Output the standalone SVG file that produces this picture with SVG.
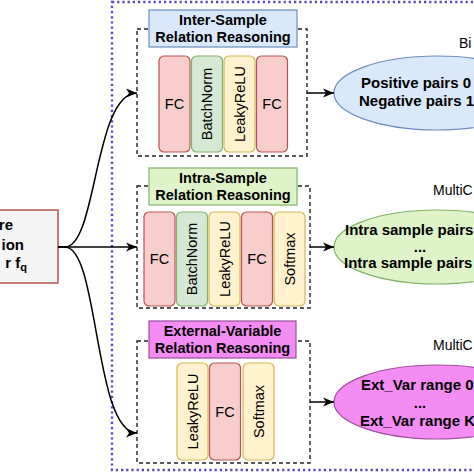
<svg xmlns="http://www.w3.org/2000/svg" width="474" height="474" viewBox="0 0 474 474">
<defs>
<marker id="arr" markerUnits="userSpaceOnUse" markerWidth="12" markerHeight="10" viewBox="0 0 12 10" refX="11" refY="5" orient="auto">
<path d="M0,0.5 L11,5 L0,9.5 L3,5 z" fill="#000"/>
</marker>
<style>
text{font-family:"Liberation Sans",Arial,sans-serif;fill:#000}
.title{font-size:14.5px;font-weight:bold;text-anchor:middle}
.lbl{font-size:14.5px;text-anchor:middle;dominant-baseline:central}
.out{font-size:15px;font-weight:bold}
.tag{font-size:14px}
.dash{fill:none;stroke:#222;stroke-width:1.4;stroke-dasharray:4 3}
.fc{fill:#f8cecc;stroke:#b85450;stroke-width:1.2}
.bn{fill:#d5e8d4;stroke:#82b366;stroke-width:1.2}
.lr{fill:#fff2cc;stroke:#d6b656;stroke-width:1.2}
.conn{fill:none;stroke:#000;stroke-width:1.5}
</style>
</defs>
<rect width="474" height="474" fill="#fff"/>

<!-- outer dotted frame -->
<rect id="frame" x="112" y="2" width="380" height="468" fill="none" stroke="#5548c8" stroke-width="2.4" stroke-dasharray="2.2 3"/>

<!-- left node -->
<g id="encoder">
<rect x="-10" y="210" width="68" height="73" fill="#f5f5f5" stroke="#b85450" stroke-width="1.5"/>
<text class="out" x="13" y="230" text-anchor="end">re</text>
<text class="out" x="24" y="250" text-anchor="end">ion</text>
<text class="out" x="27" y="268" text-anchor="end">r f<tspan font-size="11" dy="3">q</tspan></text>
</g>

<!-- Inter-sample branch -->
<g id="inter">
<rect class="dash" x="137" y="29" width="170" height="127"/>
<rect x="149" y="10" width="148" height="37" fill="#dae8fc" stroke="#6c8ebf" stroke-width="1.2"/>
<text class="title" x="223" y="25">Inter-Sample</text>
<text class="title" x="223" y="42">Relation Reasoning</text>
<rect class="fc" x="159" y="56" width="31" height="96" rx="5"/>
<text class="lbl" x="174.5" y="104">FC</text>
<rect class="bn" x="191.5" y="56" width="31" height="96" rx="5"/>
<text class="lbl" transform="translate(207 104) rotate(-90)">BatchNorm</text>
<rect class="lr" x="224" y="56" width="31" height="96" rx="5"/>
<text class="lbl" transform="translate(239.5 104) rotate(-90)">LeakyReLU</text>
<rect class="fc" x="256.5" y="56" width="31" height="96" rx="5"/>
<text class="lbl" x="272" y="104">FC</text>
</g>
<g id="out-inter">
<ellipse cx="437" cy="93" rx="103" ry="37" fill="#dae8fc" stroke="#6c8ebf" stroke-width="1.2"/>
<text class="out" x="361" y="88">Positive pairs 0</text>
<text class="out" x="359" y="106">Negative pairs 1</text>
<text class="tag" x="459" y="48">Bi</text>
</g>

<!-- Intra-sample branch -->
<g id="intra">
<rect class="dash" x="137" y="186" width="173" height="122"/>
<rect x="149" y="168" width="148" height="37" fill="#dff3c8" stroke="#82b366" stroke-width="1.2"/>
<text class="title" x="223" y="183">Intra-Sample</text>
<text class="title" x="223" y="200">Relation Reasoning</text>
<rect class="fc" x="144" y="212" width="31" height="94" rx="5"/>
<text class="lbl" x="159.5" y="259">FC</text>
<rect class="bn" x="176.5" y="212" width="31" height="94" rx="5"/>
<text class="lbl" transform="translate(192 259) rotate(-90)">BatchNorm</text>
<rect class="lr" x="209" y="212" width="31" height="94" rx="5"/>
<text class="lbl" transform="translate(224.5 259) rotate(-90)">LeakyReLU</text>
<rect class="fc" x="241.5" y="212" width="31" height="94" rx="5"/>
<text class="lbl" x="257" y="259">FC</text>
<rect class="lr" x="274" y="212" width="31" height="94" rx="5"/>
<text class="lbl" transform="translate(289.5 259) rotate(-90)">Softmax</text>
</g>
<g id="out-intra">
<ellipse cx="437" cy="247" rx="103" ry="37" fill="#dff3c8" stroke="#82b366" stroke-width="1.2"/>
<text class="out" x="345" y="235">Intra sample pairs</text>
<text class="out" x="420" y="252" text-anchor="middle">...</text>
<text class="out" x="344" y="268">Intra sample pairs</text>
<text class="tag" x="433" y="195">MultiC</text>
</g>

<!-- External-variable branch -->
<g id="external">
<rect class="dash" x="137" y="341" width="173" height="122"/>
<rect x="149" y="321" width="147" height="37" fill="#f48cf4" stroke="#9a4f9a" stroke-width="1.2"/>
<text class="title" x="222.5" y="336">External-Variable</text>
<text class="title" x="222.5" y="353">Relation Reasoning</text>
<rect class="lr" x="177" y="363" width="31" height="97" rx="5"/>
<text class="lbl" transform="translate(192.5 411.5) rotate(-90)">LeakyReLU</text>
<rect class="fc" x="209.5" y="363" width="31" height="97" rx="5"/>
<text class="lbl" x="225" y="411.5">FC</text>
<rect class="lr" x="243" y="363" width="31" height="97" rx="5"/>
<text class="lbl" transform="translate(258.5 411.5) rotate(-90)">Softmax</text>
</g>
<g id="out-external">
<ellipse cx="437" cy="402" rx="103" ry="37" fill="#f48cf4" stroke="#a0509e" stroke-width="1.2"/>
<text class="out" x="361" y="390">Ext_Var range 0</text>
<text class="out" x="420" y="408" text-anchor="middle">...</text>
<text class="out" x="360" y="426">Ext_Var range K</text>
<text class="tag" x="433" y="350">MultiC</text>
</g>

<!-- connectors -->
<g id="connectors">
<path class="conn" d="M58,247 H137" marker-end="url(#arr)"/>
<path class="conn" d="M58,247 H65 C97,247 94,93 137,93" marker-end="url(#arr)"/>
<path class="conn" d="M58,247 H65 C99,247 94,433 137,433" marker-end="url(#arr)"/>
<path class="conn" d="M307,93 H334" marker-end="url(#arr)"/>
<path class="conn" d="M310,247 H334" marker-end="url(#arr)"/>
<path class="conn" d="M310,402 H334" marker-end="url(#arr)"/>
</g>
</svg>
